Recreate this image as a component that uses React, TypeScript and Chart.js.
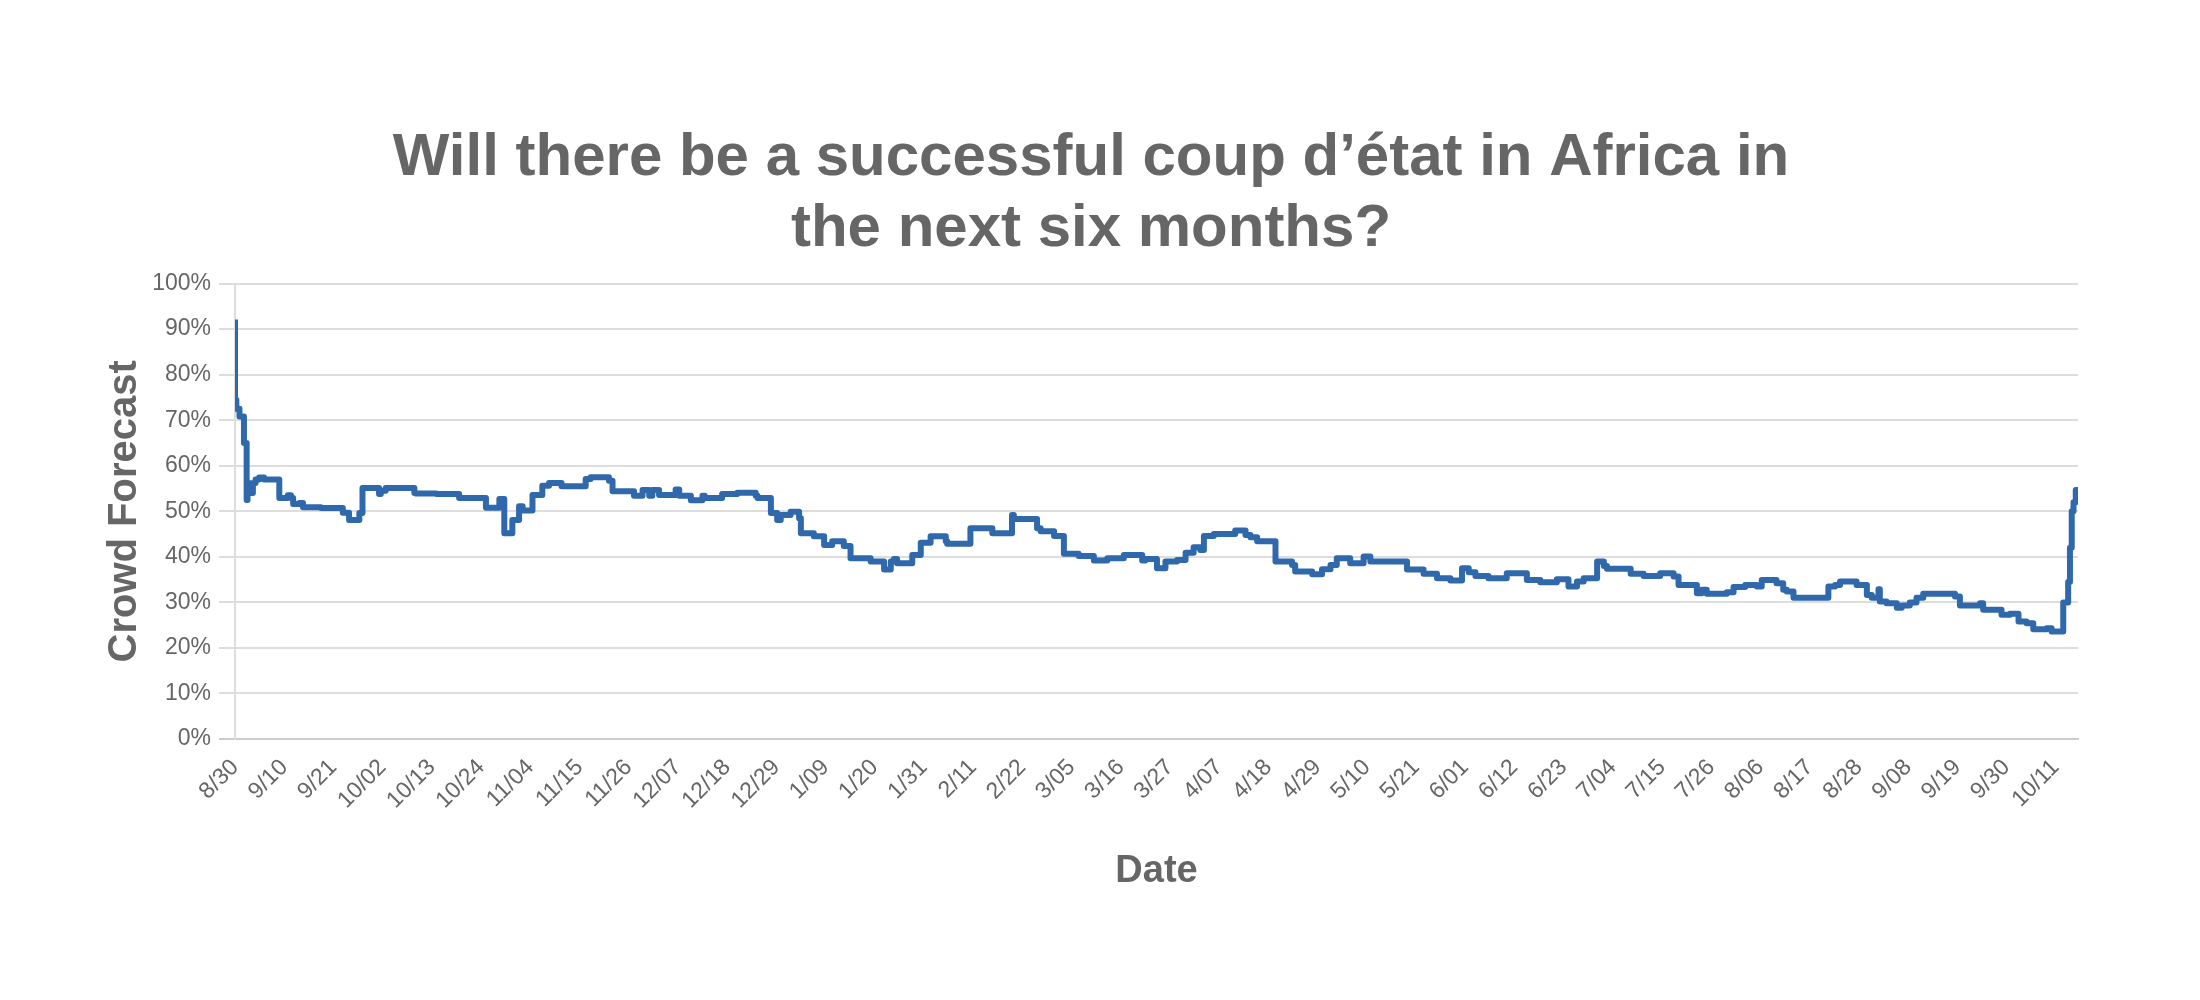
import React, { useEffect, useRef } from 'react';
import { Chart, registerables } from 'chart.js';

Chart.register(...registerables);
Chart.defaults.font.family = '"Liberation Sans", Arial, Helvetica, sans-serif';

const titleLines = ['Will there be a successful coup d’état in Africa in', 'the next six months?'];

// axis labels, one every 11 days from 8/30
const dateLabels = [
  '8/30', '9/10', '9/21', '10/02', '10/13', '10/24', '11/04', '11/15', '11/26', '12/07',
  '12/18', '12/29', '1/09', '1/20', '1/31', '2/11', '2/22', '3/05', '3/16', '3/27',
  '4/07', '4/18', '4/29', '5/10', '5/21', '6/01', '6/12', '6/23', '7/04', '7/15',
  '7/26', '8/06', '8/17', '8/28', '9/08', '9/19', '9/30', '10/11',
];

// days since 8/30 at which the crowd forecast changes
const days = [
  0, 0.3, 1.0, 2.0, 2.6, 2.8, 3.2, 4.0, 4.6, 5.4, 6.5, 9.9, 11.8, 12.5, 13.0, 14.4, 15.2, 19.2,
  24.1, 25.5, 27.8, 28.5, 32.2, 32.6, 33.7, 40.1, 40.4, 45.0, 50.1, 56.1, 59.1, 60.2, 62.0, 63.5,
  64.3, 66.5, 68.7, 70.2, 73.0, 78.4, 79.5, 83.6, 84.4, 89.2, 91.1, 92.6, 93.3, 94.8, 98.5, 99.3,
  101.9, 104.5, 105.0, 108.9, 112.3, 116.4, 116.8, 119.8, 121.2, 122.0, 124.2, 126.1, 126.5, 129.4,
  131.7, 133.5, 136.1, 137.6, 142.1, 145.1, 146.6, 147.3, 148.0, 151.4, 153.3, 155.5, 158.9, 159.2,
  164.4, 169.3, 173.7, 174.1, 179.3, 180.1, 183.1, 185.3, 188.6, 192.0, 195.0, 198.7, 202.8, 203.5,
  206.1, 208.0, 210.6, 212.5, 214.3, 215.8, 216.6, 218.8, 223.6, 225.9, 227.0, 228.5, 232.6, 236.3,
  237.0, 240.8, 243.0, 244.9, 246.3, 249.3, 252.3, 253.8, 262.0, 265.7, 268.7, 271.7, 274.3, 275.8,
  277.3, 280.2, 284.3, 288.8, 291.8, 295.5, 298.1, 300.0, 301.5, 304.5, 306.0, 306.7, 312.0, 314.9,
  318.6, 321.6, 322.7, 326.8, 327.9, 329.0, 333.5, 335.0, 337.6, 340.2, 341.3, 344.6, 346.1, 346.9,
  348.4, 356.2, 357.7, 358.8, 362.5, 364.8, 365.9, 367.4, 367.7, 369.2, 371.5, 372.6, 374.4, 375.9,
  377.4, 384.5, 385.6, 390.1, 390.8, 394.9, 396.8, 398.7, 400.5, 402.0, 405.0, 406.1, 408.7, 409.8,
  410.2, 410.6, 411.0, 411.5, 412.0,
];

// crowd forecast in percent
const forecast = [
  92.1, 74.5, 72.5, 70.8, 65.0, 52.5, 56.2, 54.0, 56.2, 57.0, 57.4, 57.0, 52.9, 53.5, 52.9, 51.6, 51.8, 50.9,
  50.7, 49.7, 48.1, 49.6, 55.1, 53.8, 54.5, 55.1, 54.0, 53.9, 53.8, 52.9, 50.8, 52.7, 45.2, 48.1,
  51.1, 50.2, 53.6, 55.6, 56.2, 55.5, 57.1, 57.5, 56.7, 54.4, 53.4, 54.7, 53.4, 54.7, 53.6, 54.8,
  53.4, 52.4, 53.4, 52.9, 53.8, 54.1, 53.4, 52.9, 49.6, 48.1, 49.2, 49.9, 48.5, 45.2,
  44.5, 42.6, 43.4, 42.4, 39.7, 39.0, 37.2, 39.0, 39.5, 38.6, 40.4, 43.1, 44.5, 43.4,
  42.9, 46.3, 45.2, 49.2, 48.3, 46.3, 45.6, 44.6, 40.7, 40.2, 39.2, 39.7, 40.4, 39.2,
  39.5, 37.5, 39.0, 39.3, 40.9, 42.1, 41.5, 44.6, 45.0, 45.8, 44.8, 44.3, 43.4, 39.0,
  38.2, 36.8, 36.2, 37.3, 38.2, 39.7, 38.6, 40.1, 39.0, 37.2, 36.3, 35.3, 34.8, 37.5,
  36.6, 35.8, 35.3, 36.4, 34.9, 34.4, 35.1, 33.5, 34.6, 35.3, 39.0, 38.0, 37.4, 36.3,
  35.8, 36.4, 35.7, 33.8, 32.0, 32.8, 31.9, 32.2, 33.4, 33.8, 33.5, 34.9, 34.2, 32.8,
  32.4, 31.0, 33.5, 33.8, 34.6, 33.8, 31.6, 31.0, 32.9, 30.2, 29.8, 28.8, 29.3, 30.0,
  31.0, 31.9, 31.3, 29.3, 29.8, 28.4, 27.3, 27.5, 25.8, 25.4, 24.1, 24.3, 23.6, 30.0,
  34.5, 42.0, 50.0, 52.0, 54.7,
];

const TEXT_GREY = '#666666';

const CoupForecastChart: React.FC = () => {
  const canvasRef = useRef<HTMLCanvasElement | null>(null);
  const chartInstance = useRef<Chart | null>(null);

  useEffect(() => {
    if (!canvasRef.current) return;
    if (chartInstance.current) chartInstance.current.destroy();

    chartInstance.current = new Chart(canvasRef.current, {
      type: 'line',
      data: {
        datasets: [
          {
            label: 'Crowd Forecast',
            data: days.map((d, i) => ({ x: d, y: forecast[i] })),
            borderColor: '#3068ac',
            borderWidth: 6,
            borderJoinStyle: 'round',
            pointRadius: 0,
            stepped: 'after',
            fill: false,
          },
        ],
      },
      options: {
        animation: false,
        responsive: true,
        maintainAspectRatio: false,
        layout: { padding: { left: 96, right: 114, top: 0, bottom: 0 } },
        plugins: {
          legend: { display: false },
          tooltip: { enabled: false },
          title: {
            display: true,
            text: titleLines,
            color: TEXT_GREY,
            font: { size: 60, weight: 'bold', lineHeight: 1.18 },
            padding: { top: 115, bottom: 19 },
          },
        },
        scales: {
          x: {
            type: 'linear',
            min: 0,
            max: 412,
            afterBuildTicks: (scale: any) => {
              scale.ticks = dateLabels.map((_, i) => ({ value: i * 11 }));
            },
            afterFit: (scale: any) => {
              scale.height = 253;
            },
            grid: { display: false, drawTicks: false },
            border: { display: true, color: '#cccccc', width: 2 },
            ticks: {
              autoSkip: false,
              minRotation: 45,
              maxRotation: 45,
              padding: 15,
              color: TEXT_GREY,
              font: { size: 23 },
              callback: (_v: any, i: number) => dateLabels[i],
            },
            title: {
              display: true,
              text: 'Date',
              color: TEXT_GREY,
              font: { size: 38, weight: 'bold', lineHeight: 1.2 },
              padding: { top: 0, bottom: 98 },
            },
          },
          y: {
            min: 0,
            max: 100,
            afterFit: (scale: any) => {
              scale.width = 131;
            },
            ticks: {
              stepSize: 10,
              padding: 8,
              color: TEXT_GREY,
              font: { size: 23 },
              callback: (v: any) => `${v}%`,
            },
            grid: {
              color: (ctx: any) => (ctx.tick && ctx.tick.value === 0 ? '#cccccc' : '#dddddd'),
              lineWidth: 2,
              tickLength: 16,
            },
            border: { display: true, color: '#dddddd', width: 2 },
            title: {
              display: true,
              text: 'Crowd Forecast',
              color: TEXT_GREY,
              font: { size: 40, weight: 'bold', lineHeight: 1 },
              padding: { top: 1, bottom: 0 },
            },
          },
        },
      },
    });

    return () => {
      if (chartInstance.current) {
        chartInstance.current.destroy();
        chartInstance.current = null;
      }
    };
  }, []);

  return (
    <div style={{ position: 'relative', width: 2184, height: 984 }}>
      <canvas ref={canvasRef} />
    </div>
  );
};

const App: React.FC = () => <CoupForecastChart />;

export default App;
